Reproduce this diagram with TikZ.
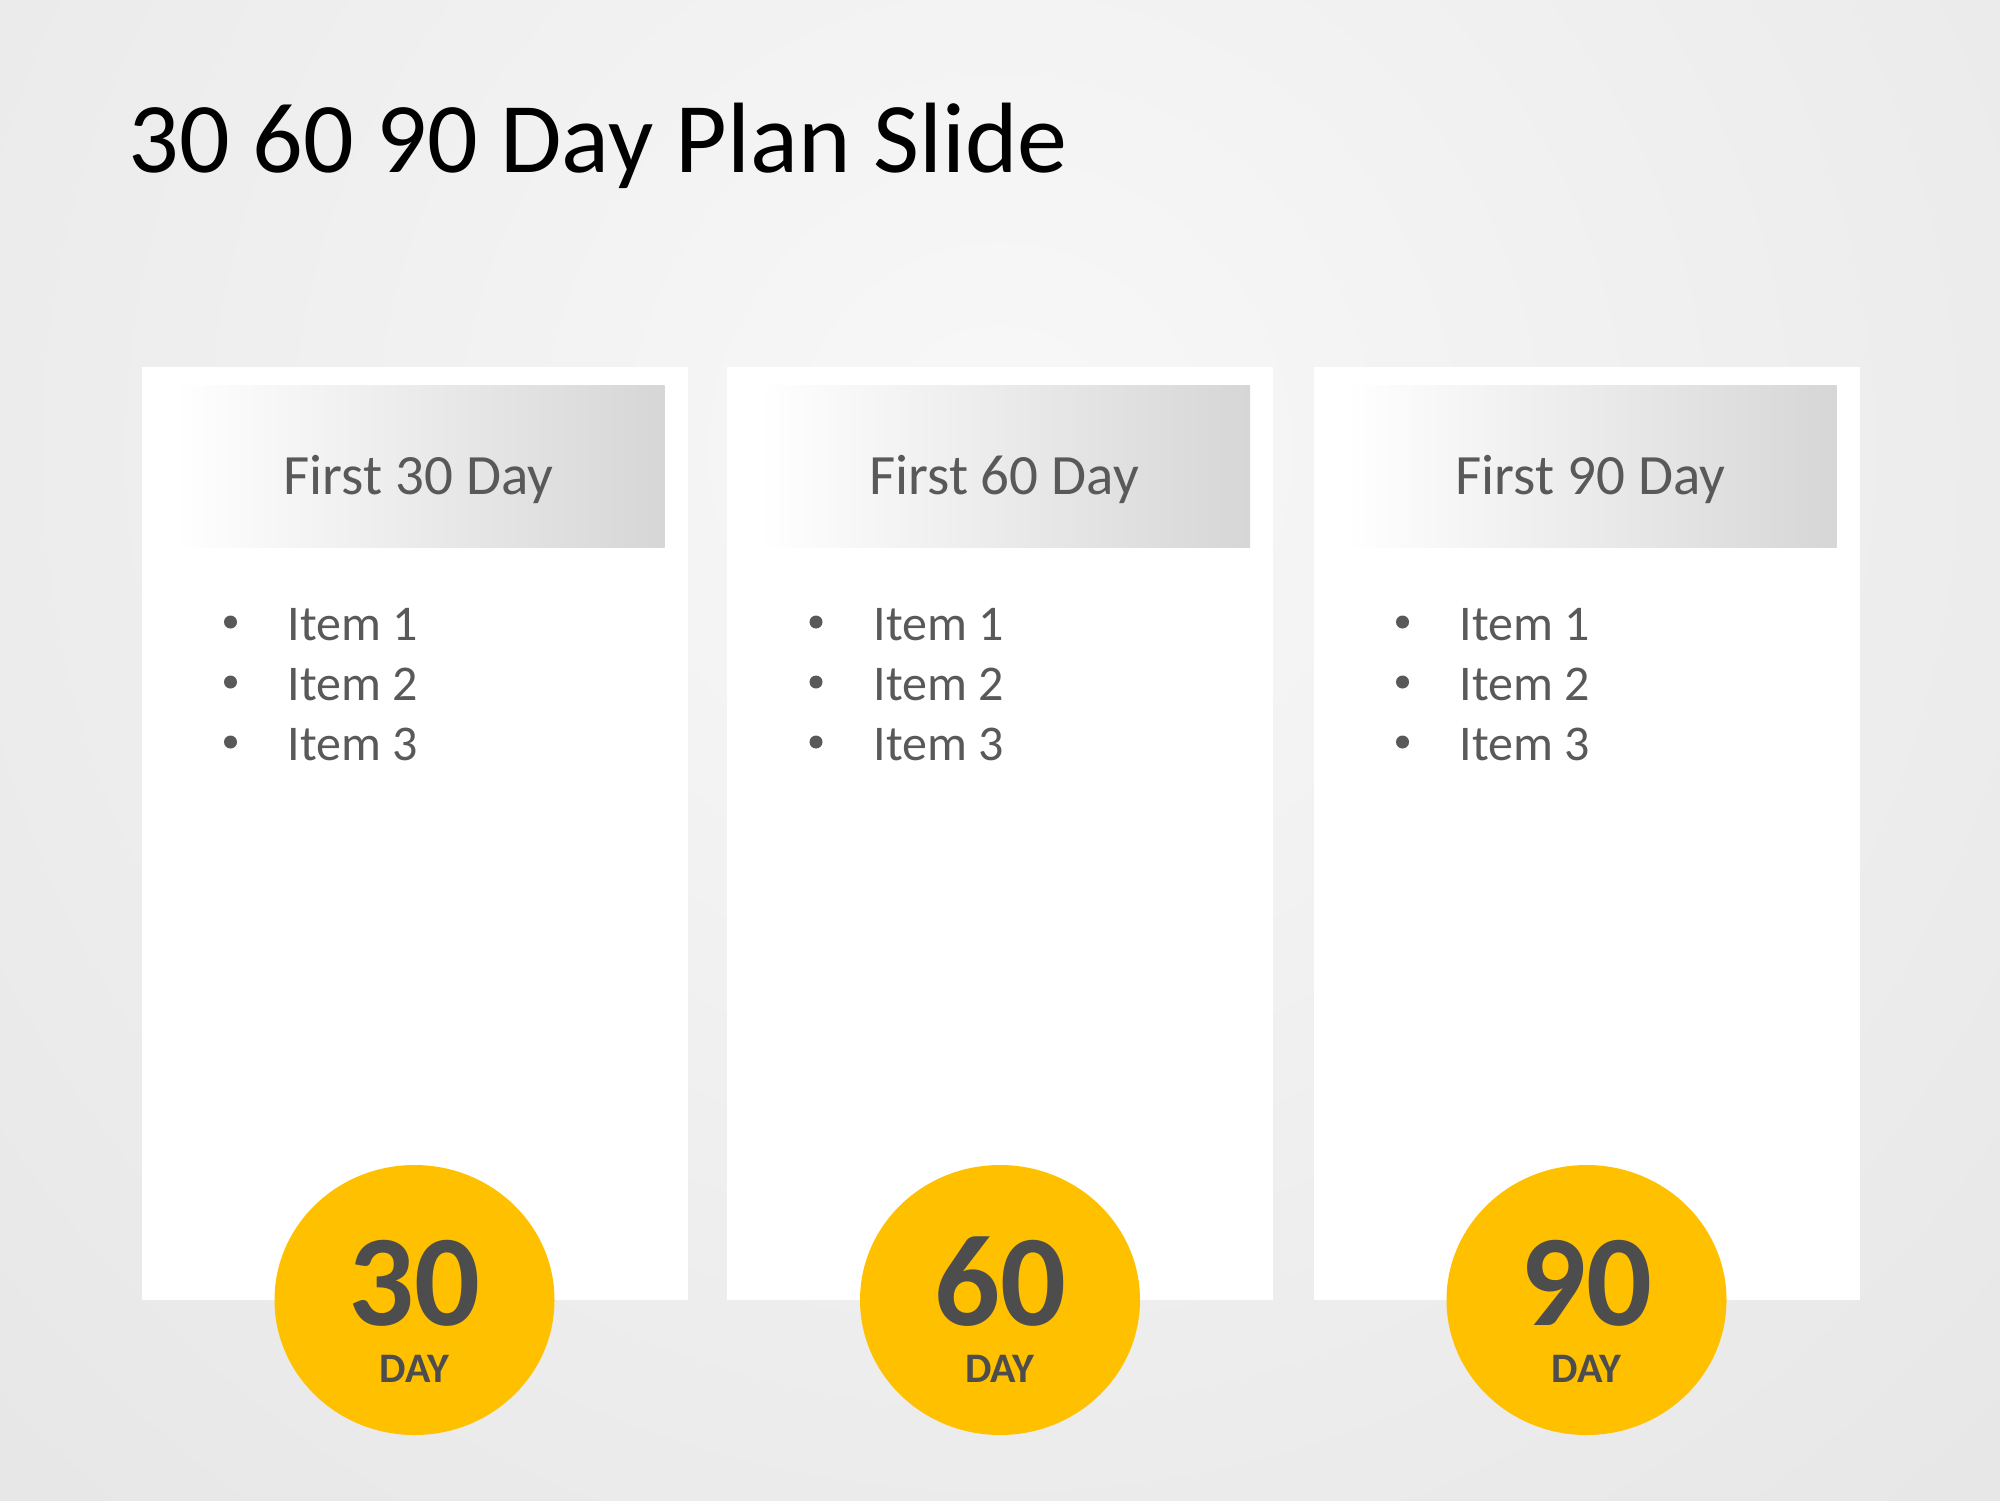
\documentclass[tikz,border=0pt]{standalone}
\usepackage{fontspec}
\setmainfont{Carlito}
\usetikzlibrary{shapes.geometric}
\definecolor{bgin}{RGB}{248,248,248}
\definecolor{bgout}{RGB}{230,230,230}
\definecolor{headgray}{RGB}{214,214,214}
\definecolor{txtgray}{RGB}{89,89,89}
\definecolor{numgray}{RGB}{77,77,77}
\definecolor{gold}{RGB}{255,192,0}
\tikzset{
  card/.style={rectangle, fill=white, draw=none, minimum width=273pt, minimum height=466.5pt, inner sep=0pt},
  headtxt/.style={anchor=base, inner sep=0pt, text=txtgray, font=\fontsize{28.5}{34}\selectfont},
  itemtxt/.style={anchor=base west, inner sep=0pt, text=txtgray, font=\fontsize{25}{30}\selectfont},
  bul/.style={circle, fill=txtgray, draw=none, minimum size=6.5pt, inner sep=0pt},
  badge/.style={ellipse, fill=gold, draw=none, minimum width=140pt, minimum height=135pt, inner sep=0pt},
  numtxt/.style={anchor=base, inner sep=0pt, align=center, text=numgray, font=\bfseries\fontsize{21}{28.5}\selectfont},
}
\begin{document}
\begin{tikzpicture}[x=0.5pt,y=-0.5pt]
\useasboundingbox (0,0) rectangle (2000,1500);
\begin{scope}
  \clip (0,0) rectangle (2000,1500);
  \fill[bgout] (0,0) rectangle (2000,1500);
  \shade[inner color=bgin, outer color=bgout] (1000,450) circle (1500);
\end{scope}
\node[anchor=base west, inner sep=0pt, text=black, font=\fontsize{50}{60}\selectfont] (title) at (128,172) {30 60 90 Day Plan Slide};
\foreach \i/\cx/\d in {1/414.5/30, 2/1000/60, 3/1586.5/90} {
  \node[card] (card\i) at (\cx,833.5) {};
  \shade[left color=white, right color=headgray] (\cx-240,385) rectangle (\cx+250,547);
  \node[headtxt] (head\i) at (\cx+4,494) {First \d{} Day};
  \node[bul] (bA\i) at (\cx-184,622) {};
  \node[bul] (bB\i) at (\cx-184,682) {};
  \node[bul] (bC\i) at (\cx-184,742) {};
  \node[itemtxt] (itA\i) at (\cx-127,640) {Item 1};
  \node[itemtxt] (itB\i) at (\cx-127,700) {Item 2};
  \node[itemtxt] (itC\i) at (\cx-127,760) {Item 3};
  \node[badge] (badge\i) at (\cx,1300) {};
  \node[numtxt] (num\i) at (\cx,1382) {{\fontsize{65}{28.5}\selectfont\d}\\DAY};
}
\end{tikzpicture}
\end{document}
